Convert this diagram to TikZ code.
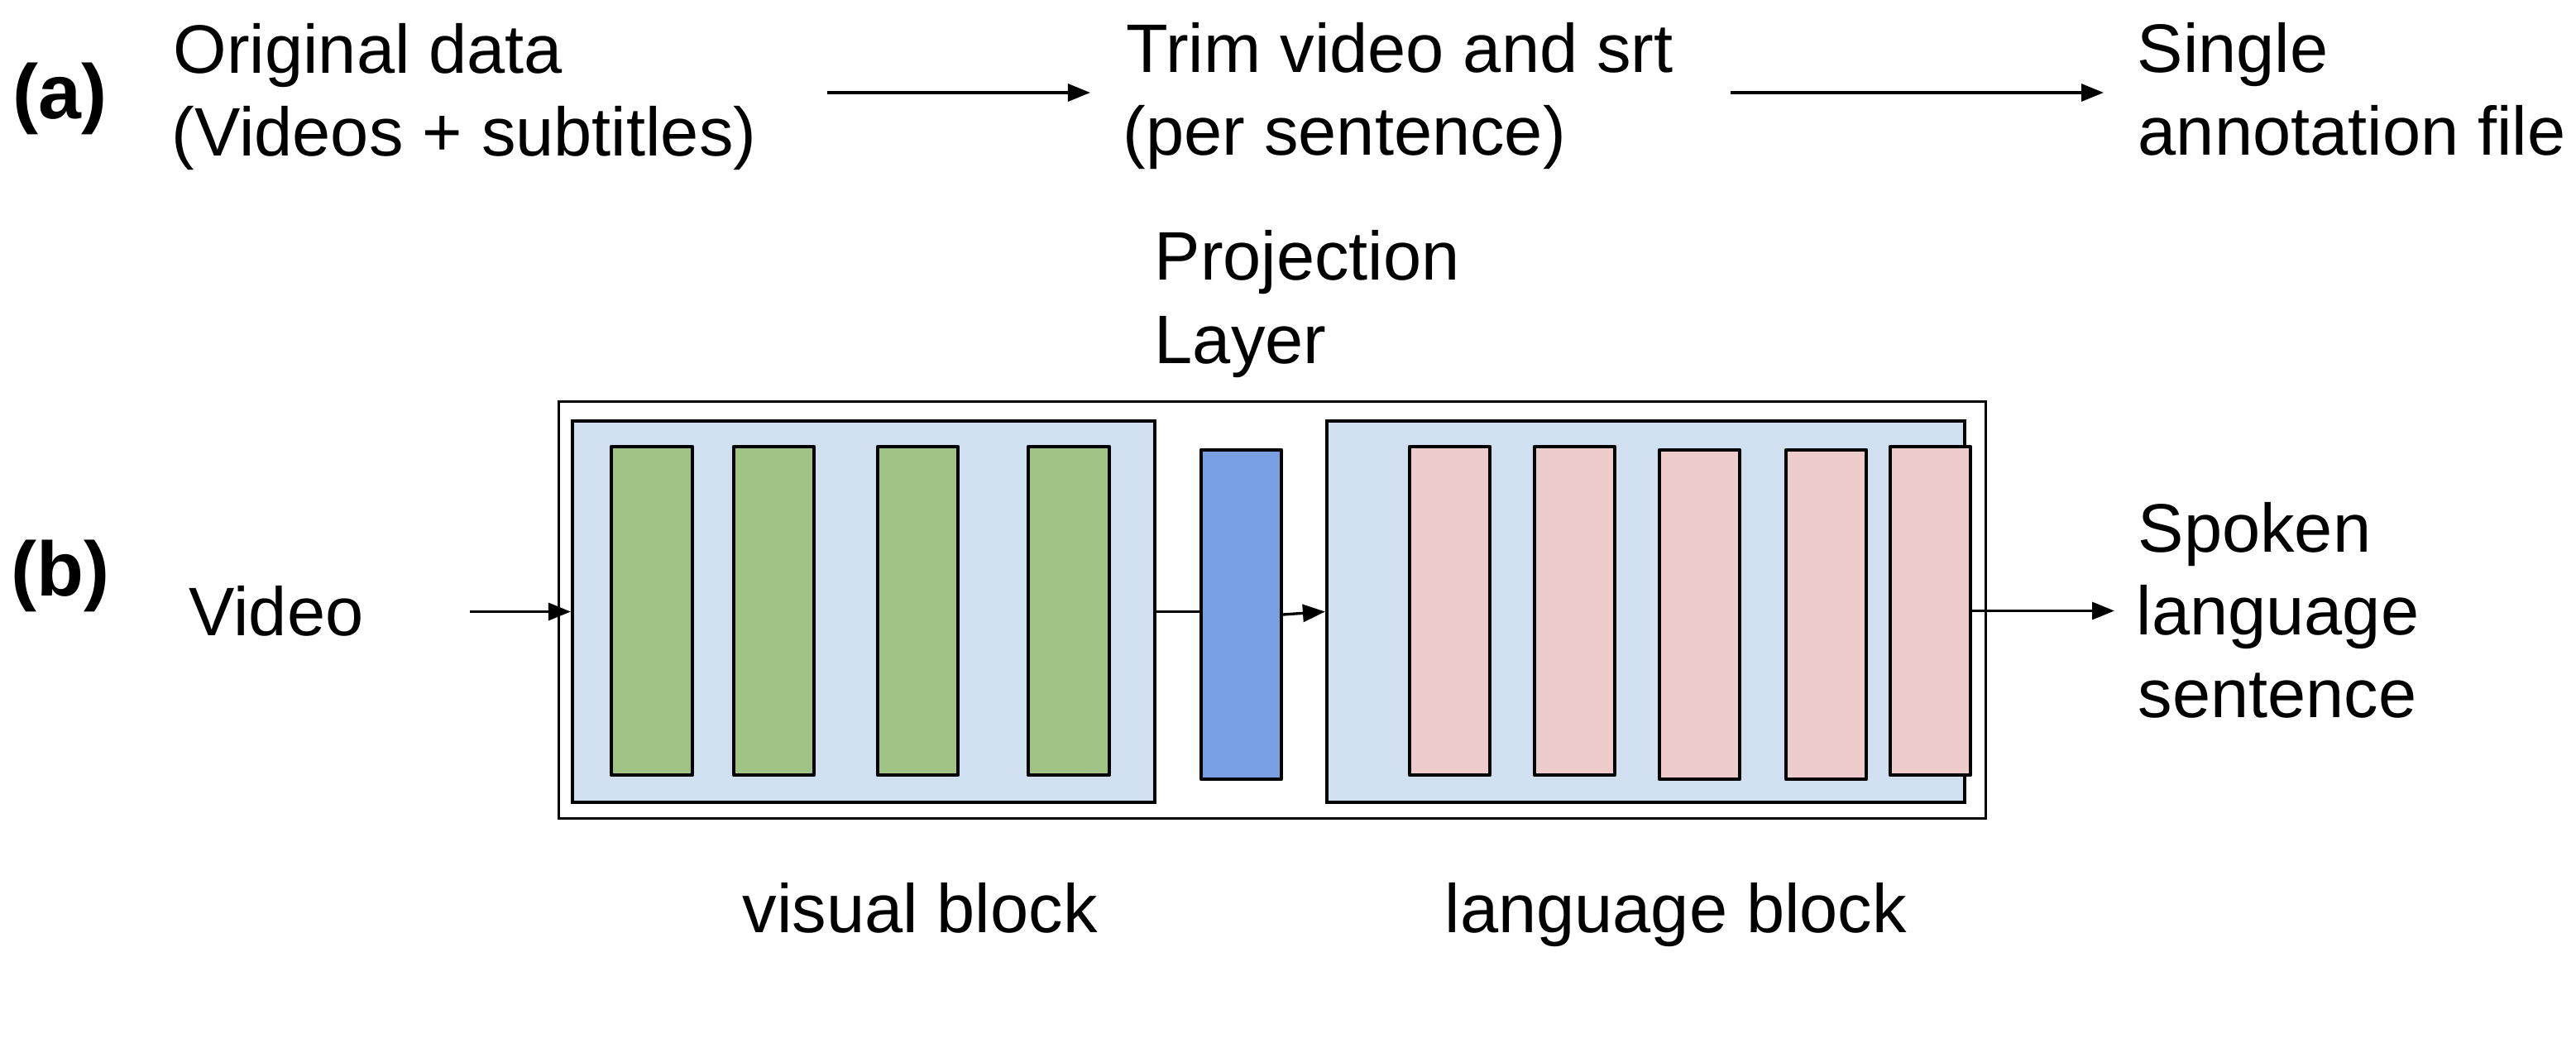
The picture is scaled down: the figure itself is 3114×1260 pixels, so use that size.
\documentclass[tikz,border=0pt]{standalone}
\usepackage{fontspec}
\setmainfont{Liberation Sans}
\usetikzlibrary{arrows.meta}
\definecolor{blockfill}{RGB}{208,224,240}
\definecolor{greenfill}{RGB}{160,195,133}
\definecolor{bluefill}{RGB}{120,159,226}
\definecolor{pinkfill}{RGB}{237,204,203}
\tikzset{
  txt/.style={anchor=base west, inner sep=0pt, font=\fontsize{23.6}{28}\selectfont},
  lbl/.style={anchor=base west, inner sep=0pt, font=\fontsize{26.5}{30}\selectfont\bfseries},
  outerbox/.style={draw, line width=0.9pt, inner sep=0pt, rectangle},
  blockbox/.style={draw, line width=1.05pt, fill=blockfill, inner sep=0pt, rectangle},
  barbox/.style={draw, line width=1.15pt, line join=round, inner sep=0pt, rectangle, minimum width=0.97cm},
  greenbar/.style={barbox, fill=greenfill, minimum height=3.97cm},
  bluebar/.style={barbox, fill=bluefill, minimum height=3.98cm},
  pinkbar/.style={barbox, fill=pinkfill},
  conn/.style={line width=0.95pt, -{Triangle[length=0.27cm, width=0.21cm]}},
  plainconn/.style={line width=0.95pt},
}
\begin{document}
\begin{tikzpicture}[x=0.01cm, y=-0.01cm]
\path[use as bounding box] (0,0) rectangle (3114,1260);

% (a) row
\node[lbl] (la) at (15,143) {(a)};
\node[txt] (orig1) at (209,88) {Original data};
\node[txt] (orig2) at (207,188) {(Videos + subtitles)};
\node[txt] (trim1) at (1361,87) {Trim video and srt};
\node[txt] (trim2) at (1357,187) {(per sentence)};
\node[txt] (single1) at (2583,87) {Single};
\node[txt] (single2) at (2584,187) {annotation file};
\coordinate (a1s) at (1000,112);
\coordinate (a1e) at (1318,112);
\coordinate (a2s) at (2092,112);
\coordinate (a2e) at (2543,112);
\draw[conn] (a1s) -- (a1e);
\draw[conn] (a2s) -- (a2e);

% (b) row
\node[lbl] (lb) at (13,720) {(b)};
\node[txt] (proj1) at (1395,338) {Projection};
\node[txt] (proj2) at (1395,439) {Layer};
\node[txt] (video) at (228,768) {Video};
\node[txt] (spoken1) at (2584,667) {Spoken};
\node[txt] (spoken2) at (2582,767) {language};
\node[txt] (spoken3) at (2584,867) {sentence};
\node[txt] (vislbl) at (897,1127) {visual block};
\node[txt] (langlbl) at (1746,1127) {language block};

\node[outerbox, minimum width=17.24cm, minimum height=5.03cm] (outer) at (1538,737.5) {};
\node[blockbox, minimum width=7.04cm, minimum height=4.61cm] (vis) at (1044,739.5) {};
\node[blockbox, minimum width=7.71cm, minimum height=4.61cm] (lang) at (1989.5,739.5) {};

\node[greenbar, minimum width=0.98cm] (g1) at (788,738.5) {};
\node[greenbar] (g2) at (935.5,738.5) {};
\node[greenbar] (g3) at (1109.5,738.5) {};
\node[greenbar, minimum width=0.98cm] (g4) at (1292,738.5) {};

\node[bluebar] (proj) at (1500.5,743) {};

\node[pinkbar, minimum height=3.97cm] (p1) at (1752.5,738.5) {};
\node[pinkbar, minimum height=3.97cm] (p2) at (1903.5,738.5) {};
\node[pinkbar, minimum height=3.98cm] (p3) at (2054.5,743) {};
\node[pinkbar, minimum height=3.98cm] (p4) at (2207.5,743) {};
\node[pinkbar, minimum height=3.97cm] (p5) at (2333.5,738.5) {};

\coordinate (vidstart) at (568,739.5);
\coordinate (outend) at (2556,738.5);
\draw[conn] (vidstart) -- (vis.west);
\draw[plainconn] (vis.east) -- (vis.east -| proj.west);
\draw[conn] (proj.east) -- (lang.west);
\draw[conn] (p5.east) -- (outend);
\end{tikzpicture}
\end{document}
